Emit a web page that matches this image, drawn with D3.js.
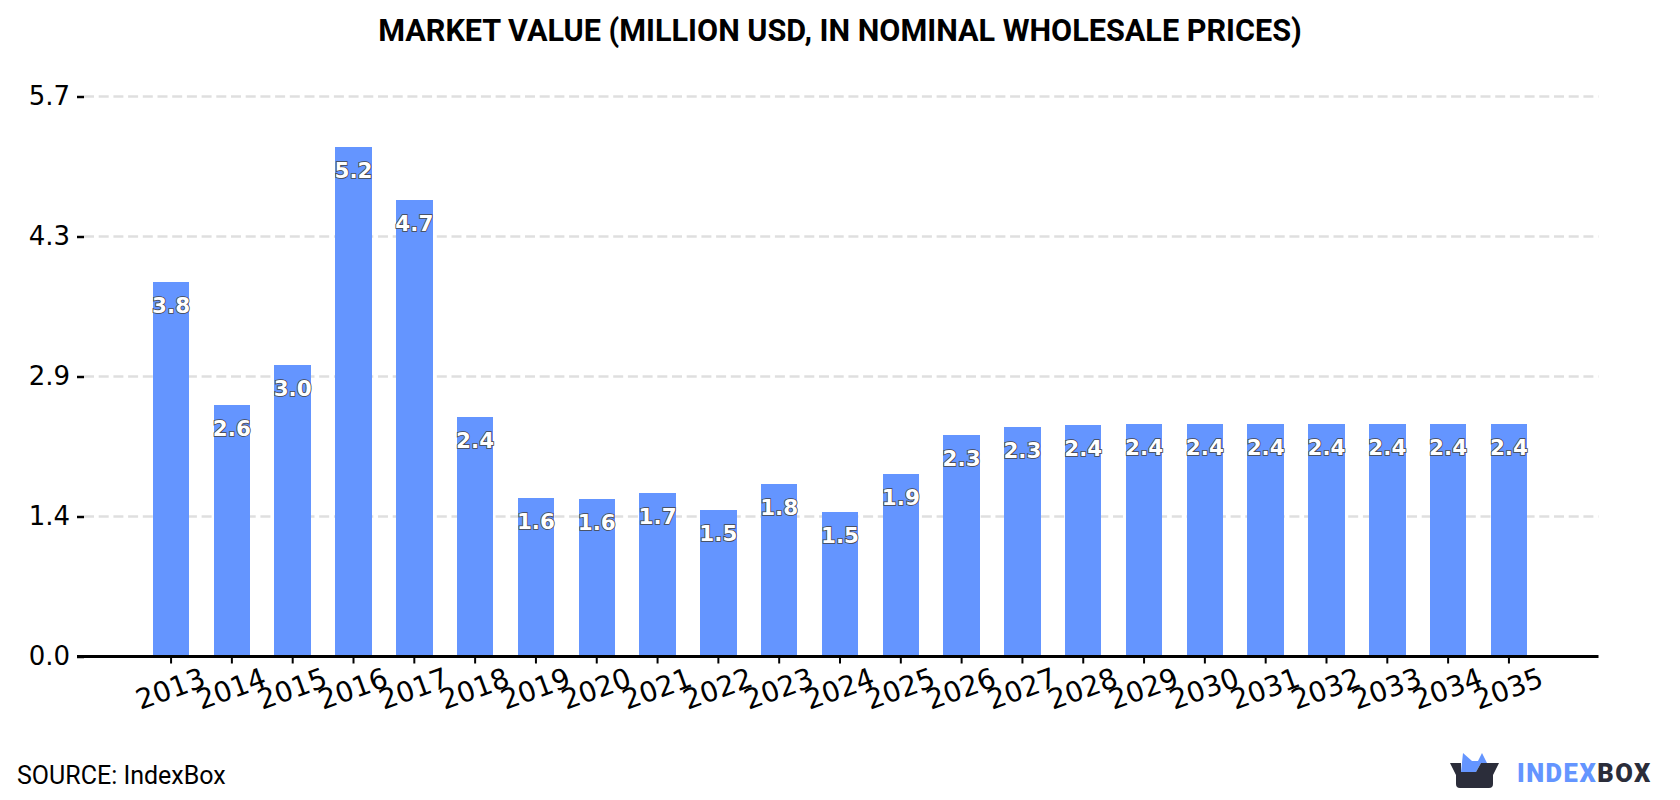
<!DOCTYPE html>
<html>
<head>
<meta charset="utf-8">
<script src="https://cdn.jsdelivr.net/npm/d3@7"></script>
<style>
  html, body { margin: 0; padding: 0; background: #fff; }
  svg { display: block; }
</style>
</head>
<body>
<svg id="chart" width="1680" height="800"></svg>
<script>
const years = ["2013","2014","2015","2016","2017","2018","2019","2020","2021","2022","2023","2024","2025","2026","2027","2028","2029","2030","2031","2032","2033","2034","2035"];
const marketValue = [3.81,2.56,2.97,5.19,4.65,2.44,1.61,1.6,1.66,1.49,1.76,1.47,1.86,2.25,2.34,2.36,2.37,2.37,2.37,2.37,2.37,2.37,2.37];
const yTickValues = [0, 1.425, 2.85, 4.275, 5.7];
const yTickLabels = ["0.0", "1.4", "2.9", "4.3", "5.7"];
const chartTitle = "MARKET VALUE (MILLION USD, IN NOMINAL WHOLESALE PRICES)";
const sourceText = "SOURCE: IndexBox";

const svg = d3.select("#chart");
const plot = { left: 84, right: 1598.5, top: 96.5, bottom: 656.5 };

const x = d3.scaleBand().domain(years).range([83.5, 1596.5]).paddingInner(0.4).paddingOuter(1.14);
const y = d3.scaleLinear().domain([0, 5.7]).range([plot.bottom, plot.top]);

svg.append("text")
  .attr("x", 840).attr("y", 41)
  .attr("text-anchor", "middle")
  .attr("font-family", "Roboto").attr("font-weight", 700).attr("font-size", 30.6)
  .attr("fill", "#000")
  .text(chartTitle);

// Dashed horizontal gridlines, skipping the baseline
svg.append("g").selectAll("line")
  .data(yTickValues.filter(d => d > 0))
  .join("line")
  .attr("x1", plot.left).attr("x2", plot.right)
  .attr("y1", d => y(d)).attr("y2", d => y(d))
  .attr("stroke", "#dfdfdf").attr("stroke-width", 2.5)
  .attr("stroke-dasharray", "10 4.7");

// Bars
svg.append("g").selectAll("rect")
  .data(years)
  .join("rect")
  .attr("x", d => x(d))
  .attr("width", x.bandwidth())
  .attr("y", (d, i) => y(marketValue[i]))
  .attr("height", (d, i) => y(0) - y(marketValue[i]))
  .attr("fill", "#6495ff")
  .attr("shape-rendering", "crispEdges");

// Value labels just inside the top of each bar
svg.append("g").selectAll("text")
  .data(years)
  .join("text")
  .attr("x", d => x(d) + x.bandwidth() / 2)
  .attr("y", (d, i) => y(marketValue[i]) + 31)
  .attr("text-anchor", "middle")
  .attr("font-family", "DejaVu Sans").attr("font-weight", 700).attr("font-size", 21.5)
  .attr("fill", "#fff").attr("stroke", "#444").attr("stroke-width", 1.6)
  .attr("paint-order", "stroke")
  .text((d, i) => marketValue[i].toFixed(1));

// Y axis
const yAxis = d3.axisLeft(y)
  .tickValues(yTickValues)
  .tickFormat((d, i) => yTickLabels[i])
  .tickSize(7).tickPadding(7);
const yG = svg.append("g").attr("transform", `translate(${plot.left},0)`).call(yAxis);
yG.select(".domain").remove();
yG.selectAll("line").attr("stroke", "#000").attr("stroke-width", 2.5);
yG.selectAll("text").attr("font-family", "DejaVu Sans").attr("font-size", 26).attr("fill", "#000");

// X axis with slanted year labels
const xAxis = d3.axisBottom(x).tickSize(7).tickPadding(15);
const xG = svg.append("g").attr("transform", `translate(0,${plot.bottom})`).call(xAxis);
xG.select(".domain").attr("d", `M${plot.left - 7},0H${plot.right}`).attr("stroke", "#000").attr("stroke-width", 3);
xG.selectAll("line").attr("stroke", "#000").attr("stroke-width", 2);
xG.selectAll("text")
  .attr("font-family", "DejaVu Sans").attr("font-size", 28).attr("fill", "#000")
  .attr("text-anchor", "middle")
  .attr("dy", "0.71em")
  .attr("transform", function () {
    const ty = +d3.select(this).attr("y");
    return `rotate(-20 0 ${ty + 12})`;
  });

svg.append("text")
  .attr("x", 17).attr("y", 784)
  .attr("font-family", "Roboto").attr("font-size", 25).attr("fill", "#000")
  .text(sourceText);

// Brand mark: open box with a blue crown, followed by the wordmark
const logo = svg.append("g");
logo.append("path")
  .attr("d", "M1461,772 L1463,753 L1472,761 L1478,761 L1482,753 L1487,763 L1481,763 L1476,772 Z")
  .attr("fill", "#6495ff");
logo.append("path")
  .attr("d", "M1450,763 L1461,763 L1461,772 L1476,772 L1481,763 L1499,763 L1493,775 L1493,784 Q1493,788 1489,788 L1460,788 Q1456,788 1456,784 L1456,775 Z")
  .attr("fill", "#2b2d3a");
const word = logo.append("text")
  .attr("x", 1517).attr("y", 782)
  .attr("font-family", "Roboto").attr("font-weight", 900).attr("font-size", 25.5)
  .attr("letter-spacing", 1.5);
word.append("tspan").attr("fill", "#6495ff").text("INDEX");
word.append("tspan").attr("fill", "#2b2d3a").text("BOX");
</script>
</body>
</html>
